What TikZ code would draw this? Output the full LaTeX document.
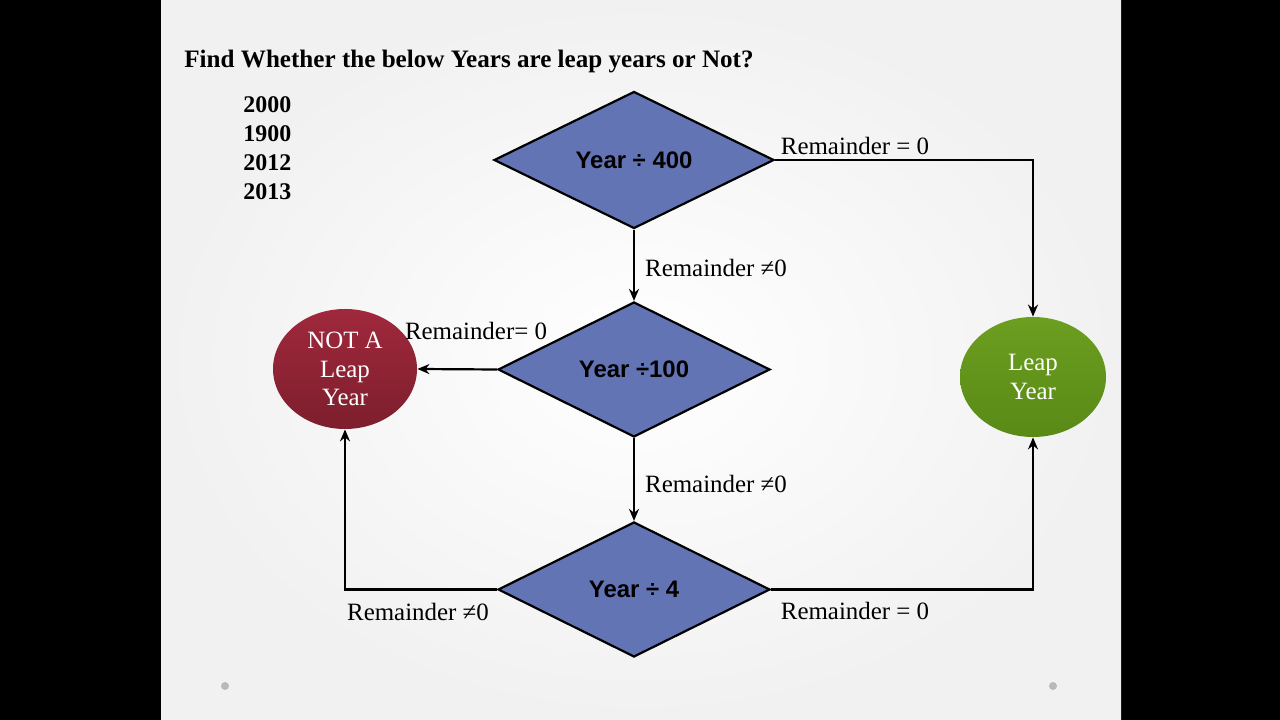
\documentclass[tikz,border=0pt]{standalone}
\usepackage{fontspec}
\setmainfont{Liberation Serif}
\setsansfont{Liberation Sans}
\usetikzlibrary{shapes.geometric,arrows.meta}
\definecolor{slideblue}{RGB}{99,116,181}
\definecolor{notred}{RGB}{160,40,60}
\definecolor{notreddark}{RGB}{125,30,45}
\definecolor{leapgreen}{RGB}{108,158,32}
\definecolor{leapgreendark}{RGB}{88,138,22}
\tikzset{
  test/.style={draw,diamond,fill=slideblue,line width=1.1bp,inner sep=0pt,
    font=\sffamily\bfseries\fontsize{12}{14}\selectfont},
  result/.style={ellipse,inner sep=0pt,text=white,align=center,
    font=\fontsize{12.5}{14.2}\selectfont},
  branch/.style={font=\fontsize{12.5}{14}\selectfont,inner sep=1pt},
  flow/.style={line width=1.1bp,-{Stealth[length=6bp,width=5bp]}}
}
\begin{document}
\begin{tikzpicture}
  % slide frame
  \fill[black] (0bp,0bp) rectangle (640bp,360bp);
  \shade[inner color=white,outer color=gray!11] (80.5bp,0bp) rectangle (560.5bp,360bp);
  \fill[gray!55] (112.5bp,17bp) circle (2bp);
  \fill[gray!55] (526.5bp,17bp) circle (2bp);
  \node (Title) at (92bp,329bp) [anchor=west,inner sep=0pt,font=\bfseries\fontsize{12.6}{14}\selectfont] {Find Whether the below Years are leap years or Not?};
  \node (Y2000) at (121.5bp,307.5bp) [anchor=west,inner sep=0pt,font=\bfseries\fontsize{12}{14}\selectfont] {2000};
  \node (Y1900) at (121.5bp,293bp) [anchor=west,inner sep=0pt,font=\bfseries\fontsize{12}{14}\selectfont] {1900};
  \node (Y2012) at (121.5bp,278.5bp) [anchor=west,inner sep=0pt,font=\bfseries\fontsize{12}{14}\selectfont] {2012};
  \node (Y2013) at (121.5bp,264bp) [anchor=west,inner sep=0pt,font=\bfseries\fontsize{12}{14}\selectfont] {2013};
  % decisions
  \node (D400) at (317bp,280bp) [test,minimum width=140bp,minimum height=68.5bp] {Year ÷ 400};
  \node (D100) at (317bp,175.25bp) [test,minimum width=136bp,minimum height=67.5bp] {Year ÷100};
  \node (D4) at (317bp,65.25bp) [test,minimum width=136bp,minimum height=67.5bp] {Year ÷ 4};
  \node (NotLeap) at (172.5bp,175.5bp) [result,minimum width=72bp,minimum height=60bp,top color=notred,bottom color=notreddark] {NOT A\\Leap\\Year};
  \node (Leap) at (516.5bp,171.5bp) [result,minimum width=73bp,minimum height=60bp,top color=leapgreen,bottom color=leapgreendark] {Leap\\Year};
  % connectors
  \draw [flow] (D400.east) -| (Leap.north);
  \draw [flow] (D400.south) -- (D100.north);
  \draw [flow] (D100.west) -- (NotLeap.east);
  \draw [flow] (D100.south) -- (D4.north);
  \draw [flow] (D4.west) -| (NotLeap.south);
  \draw [flow] (D4.east) -| (Leap.south);
  \node (R400) at (427.5bp,287bp) [branch] {Remainder = 0};
  \node (N400) at (358bp,226bp) [branch] {Remainder ≠0};
  \node (R100) at (238bp,194.5bp) [branch] {Remainder= 0};
  \node (N100) at (358bp,118bp) [branch] {Remainder ≠0};
  \node (N4) at (209bp,54bp) [branch] {Remainder ≠0};
  \node (R4) at (427.5bp,54.5bp) [branch] {Remainder = 0};
\end{tikzpicture}
\end{document}
